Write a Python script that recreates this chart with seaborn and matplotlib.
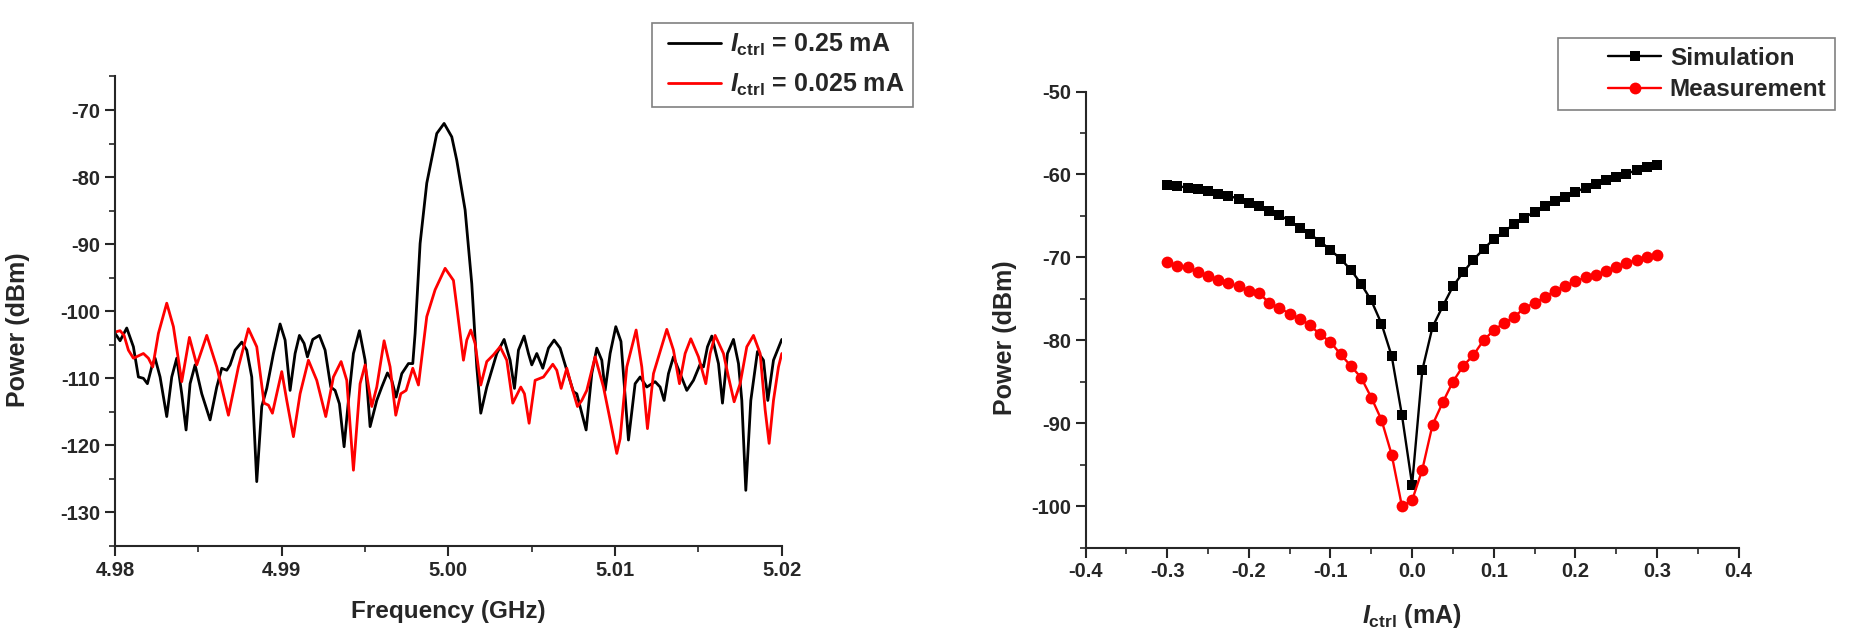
import matplotlib
matplotlib.use("Agg")
import matplotlib.pyplot as plt
import seaborn as sns
from matplotlib.ticker import MultipleLocator, FormatStrFormatter
from matplotlib.legend_handler import HandlerLine2D

# ---- left panel: spectrum around 5 GHz ----
freq_hi = [4.98000, 4.98030, 4.98070, 4.98110, 4.98140, 4.98170, 4.98194, 4.98220, 4.98240, 4.98270,
           4.98310, 4.98340, 4.98370, 4.98400, 4.98426, 4.98450, 4.98480, 4.98520, 4.98570, 4.98610,
           4.98640, 4.98670, 4.98690, 4.98720, 4.98760, 4.98790, 4.98820, 4.98850, 4.98880, 4.98910,
           4.98950, 4.98990, 4.99020, 4.99050, 4.99080, 4.99106, 4.99134, 4.99154, 4.99186, 4.99226,
           4.99260, 4.99294, 4.99320, 4.99346, 4.99374, 4.99400, 4.99430, 4.99466, 4.99500, 4.99530,
           4.99570, 4.99600, 4.99634, 4.99660, 4.99686, 4.99720, 4.99760, 4.99786, 4.99800, 4.99830,
           4.99870, 4.99930, 4.99974, 5.00020, 5.00050, 5.00100, 5.00140, 5.00170, 5.00194, 5.00230,
           5.00290, 5.00334, 5.00370, 5.00396, 5.00420, 5.00454, 5.00480, 5.00500, 5.00530, 5.00566,
           5.00600, 5.00634, 5.00670, 5.00710, 5.00750, 5.00770, 5.00800, 5.00826, 5.00860, 5.00890,
           5.00920, 5.00940, 5.00970, 5.01004, 5.01035, 5.01080, 5.01120, 5.01150, 5.01190, 5.01240,
           5.01270, 5.01294, 5.01320, 5.01350, 5.01390, 5.01430, 5.01470, 5.01510, 5.01530, 5.01554,
           5.01580, 5.01620, 5.01644, 5.01674, 5.01710, 5.01740, 5.01760, 5.01784, 5.01814, 5.01854,
           5.01890, 5.01916, 5.01950, 5.02000]
power_hi = [-103.3, -104.4, -102.5, -105.3, -109.8, -110.0, -110.8, -108.3, -107.0, -109.8,
            -115.7, -109.8, -107.0, -112.3, -117.7, -110.8, -108.0, -112.3, -116.2, -111.3,
            -108.5, -108.8, -108.0, -105.8, -104.6, -105.8, -109.8, -125.4, -114.2, -111.5,
            -106.3, -101.9, -104.3, -111.8, -106.3, -103.6, -104.8, -106.8, -104.2, -103.6,
            -105.8, -111.3, -111.8, -113.8, -120.2, -113.3, -106.3, -102.9, -107.3, -117.2,
            -113.3, -111.3, -109.2, -110.3, -112.8, -109.3, -107.8, -107.8, -103.3, -89.9,
            -80.9, -73.5, -72.0, -74.0, -77.5, -84.9, -95.9, -108.3, -115.2, -111.3,
            -106.3, -104.2, -107.3, -111.5, -105.8, -103.7, -106.3, -108.0, -106.3, -108.5,
            -105.5, -104.3, -105.5, -108.8, -112.0, -112.3, -115.2, -117.7, -109.3, -105.5,
            -107.3, -111.8, -106.3, -102.3, -104.5, -119.2, -110.8, -109.8, -111.3, -110.5,
            -111.3, -113.3, -109.3, -106.8, -109.3, -111.8, -110.3, -107.9, -108.3, -105.3,
            -103.7, -107.8, -113.7, -106.3, -104.2, -107.8, -113.3, -126.7, -113.3, -106.0,
            -107.3, -113.3, -107.3, -104.2]

freq_lo = [4.98000, 4.98030, 4.98054, 4.98080, 4.98110, 4.98170, 4.98200, 4.98226, 4.98260, 4.98310,
           4.98350, 4.98400, 4.98446, 4.98490, 4.98550, 4.98610, 4.98680, 4.98740, 4.98800, 4.98850,
           4.98894, 4.98920, 4.98944, 4.98970, 4.99000, 4.99030, 4.99070, 4.99110, 4.99160, 4.99210,
           4.99264, 4.99310, 4.99356, 4.99390, 4.99430, 4.99470, 4.99500, 4.99540, 4.99570, 4.99614,
           4.99650, 4.99684, 4.99714, 4.99746, 4.99786, 4.99820, 4.99870, 4.99920, 4.99980, 5.00030,
           5.00050, 5.00090, 5.00110, 5.00134, 5.00160, 5.00194, 5.00230, 5.00270, 5.00310, 5.00350,
           5.00386, 5.00434, 5.00456, 5.00484, 5.00520, 5.00570, 5.00626, 5.00650, 5.00676, 5.00710,
           5.00740, 5.00774, 5.00800, 5.00830, 5.00880, 5.00930, 5.00970, 5.01010, 5.01030, 5.01070,
           5.01126, 5.01160, 5.01194, 5.01230, 5.01310, 5.01350, 5.01386, 5.01420, 5.01454, 5.01500,
           5.01544, 5.01570, 5.01600, 5.01650, 5.01680, 5.01714, 5.01750, 5.01790, 5.01830, 5.01870,
           5.01900, 5.01924, 5.01950, 5.01980, 5.02000]
power_lo = [-103.1, -102.9, -103.6, -105.8, -107.0, -106.3, -107.0, -108.3, -103.3, -98.8,
            -102.3, -110.5, -103.9, -108.0, -103.6, -108.3, -115.5, -108.3, -102.6, -105.3,
            -113.7, -114.0, -115.2, -112.3, -109.0, -113.3, -118.7, -112.3, -107.3, -110.3,
            -115.7, -109.8, -107.5, -110.3, -123.7, -110.8, -108.0, -114.2, -111.3, -104.4,
            -108.3, -115.5, -112.3, -111.8, -108.5, -111.0, -100.8, -96.8, -93.6, -95.4,
            -99.3, -107.3, -104.3, -102.8, -104.8, -111.0, -107.5, -106.5, -105.3, -107.3,
            -113.7, -111.3, -112.3, -116.7, -110.3, -109.8, -107.9, -108.8, -111.5, -108.5,
            -111.3, -114.2, -113.3, -111.8, -106.8, -111.3, -116.2, -121.2, -119.0, -108.3,
            -102.8, -108.3, -117.5, -109.3, -102.7, -105.8, -110.8, -106.3, -104.1, -106.8,
            -110.8, -106.3, -103.6, -106.3, -109.8, -113.5, -110.8, -105.3, -103.6, -106.3,
            -114.7, -119.7, -113.3, -108.3, -106.3]

# ---- right panel: power vs control current ----
i_ctrl = [-0.3, -0.2875, -0.275, -0.2625, -0.25, -0.2375, -0.225, -0.2125, -0.2, -0.1875,
          -0.175, -0.1625, -0.15, -0.1375, -0.125, -0.1125, -0.1, -0.0875, -0.075, -0.0625,
          -0.05, -0.0375, -0.025, -0.0125, 0.0, 0.0125, 0.025, 0.0375, 0.05, 0.0625,
          0.075, 0.0875, 0.1, 0.1125, 0.125, 0.1375, 0.15, 0.1625, 0.175, 0.1875,
          0.2, 0.2125, 0.225, 0.2375, 0.25, 0.2625, 0.275, 0.2875, 0.3]
simulation = [-61.3, -61.4, -61.6, -61.8, -62.0, -62.3, -62.6, -62.9, -63.4, -63.8,
              -64.4, -64.9, -65.6, -66.4, -67.2, -68.1, -69.1, -70.2, -71.5, -73.2,
              -75.2, -78.0, -81.9, -89.0, -97.4, -83.6, -78.4, -75.9, -73.5, -71.8,
              -70.3, -69.0, -67.8, -66.9, -66.0, -65.2, -64.5, -63.8, -63.2, -62.7,
              -62.1, -61.6, -61.2, -60.7, -60.3, -59.9, -59.5, -59.1, -58.9]
measurement = [-70.6, -71.0, -71.2, -71.8, -72.2, -72.7, -73.1, -73.5, -74.0, -74.3,
               -75.5, -76.1, -76.8, -77.4, -78.2, -79.3, -80.2, -81.7, -83.1, -84.5,
               -86.9, -89.6, -93.8, -100.0, -99.3, -95.6, -90.2, -87.5, -85.0, -83.1,
               -81.8, -80.0, -78.8, -77.9, -77.2, -76.1, -75.5, -74.8, -74.0, -73.5,
               -72.9, -72.4, -72.1, -71.7, -71.1, -70.7, -70.3, -70.0, -69.7]

sns.set_style("ticks")
plt.rcParams["font.family"] = ["Liberation Sans", "DejaVu Sans"]
plt.rcParams["font.weight"] = "bold"
plt.rcParams["axes.unicode_minus"] = False
plt.rcParams["mathtext.fontset"] = "custom"
plt.rcParams["mathtext.it"] = "Liberation Sans:bold:italic"
plt.rcParams["mathtext.rm"] = "Liberation Sans:bold"
plt.rcParams["mathtext.bf"] = "Liberation Sans:bold"

fig = plt.figure(figsize=(18.5, 6.31), dpi=100)
ax1 = fig.add_axes([0.0622, 0.1347, 0.3604, 0.7441])
ax2 = fig.add_axes([0.5868, 0.1322, 0.3530, 0.7227])

lab_hi = r"$I_{\mathrm{ctrl}}$ = 0.25 mA"
lab_lo = r"$I_{\mathrm{ctrl}}$ = 0.025 mA"
sns.lineplot(x=freq_hi, y=power_hi, ax=ax1, color="black", linewidth=2,
             sort=False, estimator=None, label=lab_hi)
sns.lineplot(x=freq_lo, y=power_lo, ax=ax1, color="#ff0000", linewidth=2,
             sort=False, estimator=None, label=lab_lo)

sns.lineplot(x=i_ctrl, y=simulation, ax=ax2, color="black", linewidth=1.7,
             marker="s", markersize=7.5, markeredgewidth=0, sort=False,
             estimator=None, label="Simulation")
sns.lineplot(x=i_ctrl, y=measurement, ax=ax2, color="#ff0000", linewidth=1.7,
             marker="o", markersize=8.5, markeredgewidth=0, sort=False,
             estimator=None, label="Measurement")

ax1.set_xlim(4.98, 5.02)
ax1.set_ylim(-135, -65)
ax1.xaxis.set_major_locator(MultipleLocator(0.01))
ax1.xaxis.set_minor_locator(MultipleLocator(0.005))
ax1.xaxis.set_major_formatter(FormatStrFormatter("%.2f"))
ax1.yaxis.set_major_locator(MultipleLocator(10))
ax1.yaxis.set_minor_locator(MultipleLocator(5))

ax2.set_xlim(-0.4, 0.4)
ax2.set_ylim(-105, -50)
ax2.xaxis.set_major_locator(MultipleLocator(0.1))
ax2.xaxis.set_minor_locator(MultipleLocator(0.05))
ax2.xaxis.set_major_formatter(FormatStrFormatter("%.1f"))
ax2.yaxis.set_major_locator(MultipleLocator(10))
ax2.yaxis.set_minor_locator(MultipleLocator(5))

for ax in (ax1, ax2):
    sns.despine(ax=ax)
    for s in ("left", "bottom"):
        ax.spines[s].set_linewidth(1.5)
    ax.tick_params(which="major", length=7, width=1.5, labelsize=14.5, pad=3.5)
    ax.tick_params(which="minor", length=4, width=1.2)
    for t in ax.get_xticklabels() + ax.get_yticklabels():
        t.set_fontweight("bold")
    ax.get_legend().remove()

ax1.set_xlabel("Frequency (GHz)", fontsize=17.5, fontweight="bold")
ax1.set_ylabel("Power (dBm)", fontsize=18, fontweight="bold")
ax1.yaxis.set_label_coords(-0.128, 0.46)
ax1.xaxis.set_label_coords(0.5, -0.115)

ax2.set_xlabel(r"$I_{\mathrm{ctrl}}$ (mA)", fontsize=18, fontweight="bold")
ax2.set_ylabel("Power (dBm)", fontsize=18, fontweight="bold")
ax2.yaxis.set_label_coords(-0.105, 0.46)
ax2.xaxis.set_label_coords(0.5, -0.12)

# legends sit in figure coordinates; xpad pushes the sample line inward
h1, l1 = ax1.get_legend_handles_labels()
leg1 = fig.legend(h1, l1, loc="upper left", bbox_to_anchor=(652 / 1850, 1 - 23 / 631),
                  borderaxespad=0, frameon=True, fancybox=False, edgecolor="#808080",
                  framealpha=1, prop={"size": 18, "weight": "bold"}, handlelength=2.4,
                  handletextpad=0.35, labelspacing=0.55, borderpad=0.35,
                  handler_map={h: HandlerLine2D(xpad=0.3) for h in h1})
leg1.get_frame().set_linewidth(1.2)

h2, l2 = ax2.get_legend_handles_labels()
leg2 = fig.legend(h2, l2, loc="upper left", bbox_to_anchor=(1558 / 1850, 1 - 38 / 631),
                  borderaxespad=0, frameon=True, fancybox=False, edgecolor="#808080",
                  framealpha=1, prop={"size": 17.5, "weight": "bold"}, handlelength=3.9,
                  handletextpad=0.35, labelspacing=0.35, borderpad=0.35,
                  handler_map={h: HandlerLine2D(xpad=1.7) for h in h2})
leg2.get_frame().set_linewidth(1.2)

fig.savefig("out.png", dpi=100)
